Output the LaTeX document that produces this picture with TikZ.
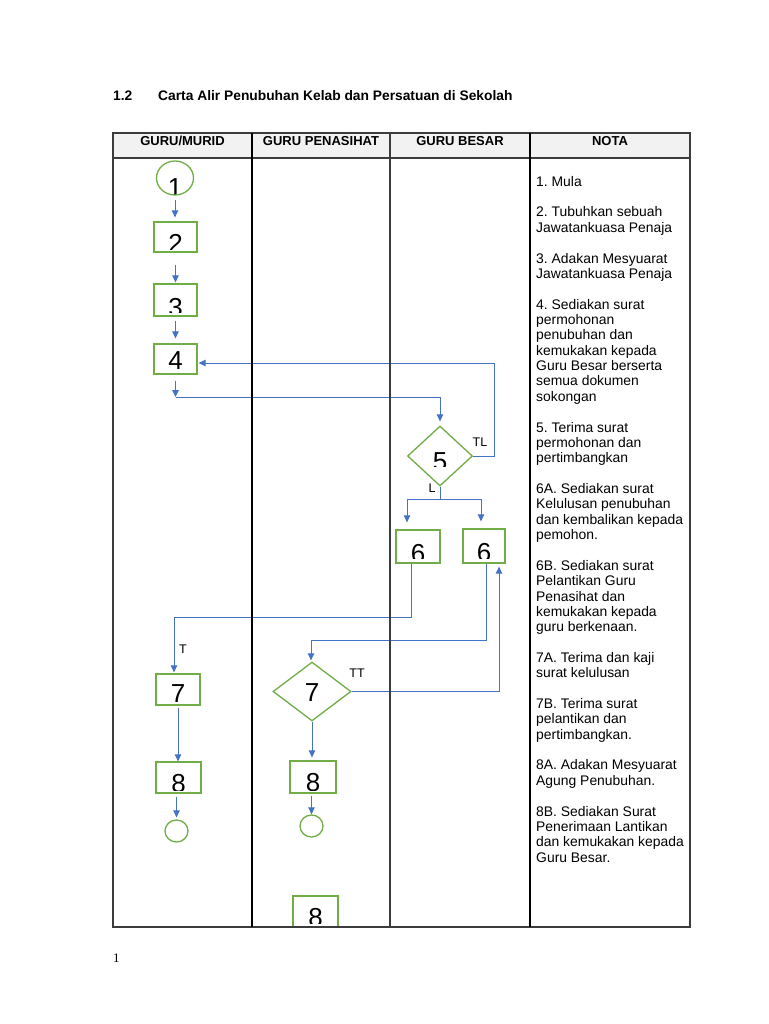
\documentclass[tikz,border=0pt]{standalone}
\usepackage{fontspec}
\setmainfont{Liberation Sans}
\newfontfamily\pgserif{Liberation Serif}
\usetikzlibrary{arrows.meta,shapes.geometric}
\definecolor{grn}{HTML}{70AD47}
\definecolor{blu}{HTML}{4472C4}
\definecolor{hdr}{HTML}{F2F2F2}
\definecolor{tline}{HTML}{3C3C3C}
\newcommand\numfont{\fontsize{26}{26}\selectfont}
\frenchspacing
\tikzset{
 shp/.style={draw=grn, line width=1.3pt, fill=white, inner sep=0pt},
 boxs/.style={shp, rectangle},
 dia/.style={shp, diamond},
 ell/.style={shp, ellipse},
 num/.style n args={3}{path picture={
   \clip ([yshift=#3]path picture bounding box.south west) rectangle (path picture bounding box.north east);
   \node[anchor=base, font=\numfont, inner sep=0pt] at ([yshift=#2]path picture bounding box.south) {#1};}},
 arr/.style={draw=blu, line width=1pt, -{Triangle[width=6.5pt,length=7pt]}},
 ln/.style={draw=blu, line width=1pt},
 lab/.style={font=\fontsize{12.5}{12.5}\selectfont, inner sep=0pt},
 hd/.style={anchor=base, font=\bfseries\fontsize{13}{13}\selectfont, inner sep=0pt},
}
\begin{document}
\begin{tikzpicture}[x=1pt,y=-1pt]
\useasboundingbox (0,0) rectangle (768,1024);
\fill[white] (0,0) rectangle (768,1024);
% title
\node[anchor=base west, font=\bfseries\fontsize{13.8}{16}\selectfont, inner sep=0pt] (secnum) at (113,101) {1.2};
\node[anchor=base west, font=\bfseries\fontsize{13.8}{16}\selectfont, inner sep=0pt] (title) at (158,101) {Carta Alir Penubuhan Kelab dan Persatuan di Sekolah};
% header
\fill[hdr] (113,133) rectangle (690,158);
\node[hd] (h1) at (182.5,146) {GURU/MURID};
\node[hd] (h2) at (321,146) {GURU PENASIHAT};
\node[hd] (h3) at (460,146) {GURU BESAR};
\node[hd] (h4) at (610,146) {NOTA};
% shapes
\node[ell, minimum width=37pt, minimum height=34pt, num={1}{-2pt}{-5pt}] (s1) at (175,178) {};
\node[boxs, minimum width=43pt, minimum height=30pt, num={2}{0pt}{3pt}] (s2) at (175.5,237) {};
\node[boxs, minimum width=43pt, minimum height=32pt, num={3}{0pt}{4pt}] (s3) at (175.5,300) {};
\node[boxs, minimum width=43pt, minimum height=30pt, num={4}{5pt}{4pt}] (s4) at (175.5,359) {};
\node[dia, minimum width=65pt, minimum height=60pt, num={5}{15pt}{19pt}] (s5) at (440,456) {};
\node[boxs, minimum width=44pt, minimum height=33pt, num={6}{1pt}{5pt}] (s6a) at (418,546.5) {};
\node[boxs, minimum width=42pt, minimum height=34pt, num={6}{2pt}{5pt}] (s6b) at (484,546) {};
\node[boxs, minimum width=44pt, minimum height=31pt, num={7}{3pt}{2pt}] (s7a) at (178,689.5) {};
\node[dia, minimum width=78pt, minimum height=59pt, num={7}{19pt}{0pt}] (s7b) at (312,691.5) {};
\node[boxs, minimum width=45pt, minimum height=31pt, num={8}{1pt}{3pt}] (s8a) at (178.5,777.5) {};
\node[boxs, minimum width=46pt, minimum height=32pt, num={8}{2pt}{3pt}] (s8b) at (313,777) {};
\node[ell, minimum width=23pt, minimum height=22pt] (e1) at (176.5,831) {};
\node[ell, minimum width=23pt, minimum height=22pt] (e2) at (311.5,826) {};
\node[boxs, minimum width=45pt, minimum height=31pt, num={8}{1pt}{4pt}] (s8c) at (315.5,911.5) {};
% connectors
\draw[arr, shorten <=4pt, shorten >=4pt] (s1.south) -- (s1.south |- s2.north);
\draw[arr, shorten <=12pt, shorten >=1pt] (s2.south) -- (s3.north);
\draw[arr, shorten <=4pt, shorten >=5pt] (s3.south) -- (s4.north);
\coordinate (c4) at (175.5,397);
\draw[arr, shorten <=6pt] (s4.south) -- (c4);
\draw[arr, shorten >=4pt] (c4) -| (s5.north);
\coordinate (c5r) at (494,456);
\coordinate (c5t) at (494,363);
\draw[arr, shorten >=1pt] (s5.east) -- (c5r) -- (c5t) -- (s4.east |- c5t);
\coordinate (c5b) at (440,499);
\coordinate (c6l) at (407,499);
\coordinate (c6r) at (481,499);
\draw[ln] (s5.south) -- (c5b);
\draw[arr, shorten >=7pt] (c5b) -- (c6l) -- (c6l |- s6a.north);
\draw[arr, shorten >=7pt] (c5b) -- (c6r) -- (c6r |- s6b.north);
\coordinate (c6a) at (411,617);
\coordinate (c7l) at (174,617);
\draw[arr, shorten >=1pt] (s6a.south -| c6a) -- (c6a) -- (c7l) -- (c7l |- s7a.north);
\coordinate (c6b) at (486,640);
\coordinate (c7m) at (311,640);
\draw[arr, shorten >=1pt] (s6b.south -| c6b) -- (c6b) -- (c7m) -- (c7m |- s7b.north);
\coordinate (c7r) at (499,691.5);
\draw[arr, shorten >=3pt] (s7b.east) -- (c7r) -- (c7r |- s6b.south);
\draw[arr, shorten <=2pt] (s7a.south) -- (s7a.south |- s8a.north);
\draw[arr, shorten <=3pt, shorten >=2pt] (e1.north |- s8a.south) -- (e1.north);
\draw[arr, shorten >=3pt] (s7b.south) -- (s7b.south |- s8b.north);
\draw[arr, shorten <=2pt] (e2.north |- s8b.south) -- (e2.north);
% labels
\node[lab] (lTL) at (480,442) {TL};
\node[lab] (lL) at (432,488) {L};
\node[lab] (lT) at (183,649) {T};
\node[lab] (lTT) at (357,673) {TT};
% nota
\node[anchor=north west, align=left, inner sep=0pt, font=\fontsize{13.9}{15.36}\selectfont] (nota) at (536,176) {%
1. Mula\\[15.36pt]
2. Tubuhkan sebuah\\Jawatankuasa Penaja\\[15.36pt]
3. Adakan Mesyuarat\\Jawatankuasa Penaja\\[15.36pt]
4. Sediakan surat\\permohonan\\penubuhan dan\\kemukakan kepada\\Guru Besar berserta\\semua dokumen\\sokongan\\[15.36pt]
5. Terima surat\\permohonan dan\\pertimbangkan\\[15.36pt]
6A. Sediakan surat\\Kelulusan penubuhan\\dan kembalikan kepada\\pemohon.\\[15.36pt]
6B. Sediakan surat\\Pelantikan Guru\\Penasihat dan\\kemukakan kepada\\guru berkenaan.\\[15.36pt]
7A. Terima dan kaji\\surat kelulusan\\[15.36pt]
7B. Terima surat\\pelantikan dan\\pertimbangkan.\\[15.36pt]
8A. Adakan Mesyuarat\\Agung Penubuhan.\\[15.36pt]
8B. Sediakan Surat\\Penerimaan Lantikan\\dan kemukakan kepada\\Guru Besar.};
% table lines
\draw[tline, line width=1.4pt] (113,133) rectangle (690,927);
\draw[tline, line width=1.2pt] (113,158) -- (690,158);
\draw[black, line width=1.1pt] (252,133) -- (252,927);
\draw[tline, line width=1.6pt] (390,133) -- (390,927);
\draw[black, line width=1.3pt] (530,133) -- (530,927);
% page number
\node[anchor=base west, font=\pgserif\fontsize{13}{13}\selectfont, inner sep=0pt] (pg) at (113,962) {1};
\end{tikzpicture}
\end{document}
